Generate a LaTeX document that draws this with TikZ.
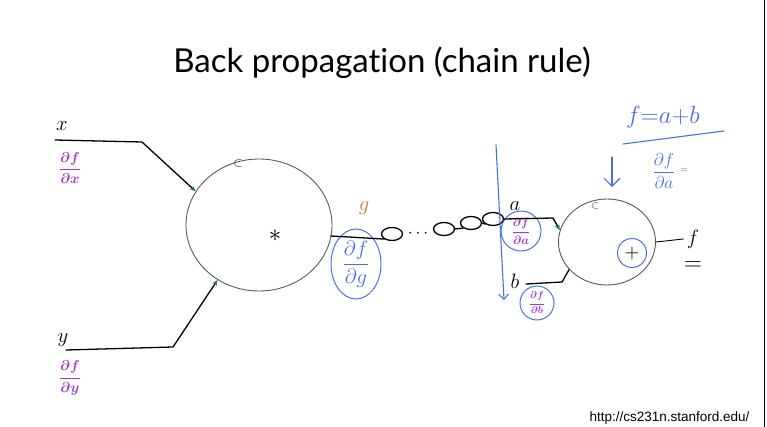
\documentclass[tikz,border=0pt]{standalone}
\usepackage{fontspec}
\newfontfamily\titlefont[Ligatures=NoCommon]{Lato}
\newfontfamily\urlfont{Liberation Sans}
\usetikzlibrary{shapes.geometric, arrows.meta, positioning}
\definecolor{penblue}{HTML}{4C6FE6}
\definecolor{gradpurple}{HTML}{A23BC8}
\definecolor{tipgreen}{HTML}{2F7A5C}
\definecolor{gbrown}{HTML}{B27A3E}

\begin{document}
\begin{tikzpicture}[x=1pt, y=-1pt, line cap=round, line join=round]

		% Setup the styles for the hand drawn slide
		\tikzset{gate/.style={ellipse, draw=black!65, line width=0.9pt, inner sep=0pt},
				pen/.style={line width=1.3pt, draw=black},
				loopy/.style={ellipse, draw, line width=1.3pt, minimum width=21pt, minimum height=13pt, inner sep=0pt},
				blueloop/.style={ellipse, draw=penblue, line width=1pt, inner sep=1pt},
				grad/.style={text=gradpurple, font=\fontsize{14.4}{16}\selectfont\boldmath},
				hand/.style={font=\fontsize{20.74}{22}\selectfont},
				tip/.style={-{Stealth[length=6pt, width=5pt, color=tipgreen]}}}

		\useasboundingbox (0,0) rectangle (767,427);
		\draw[line width=1.5pt] (764.5,0) -- (764.5,427);

		% Title and source
		\node[font=\titlefont\fontsize{33}{38}\selectfont] (title) at (382,63) {Back propagation (chain rule)};
		\node[font=\urlfont\fontsize{13.5}{16}\selectfont, anchor=east] (url) at (753,418) {http://cs231n.stanford.edu/};

		% Draw the gates
		\node[gate, minimum width=146pt, minimum height=132pt] (mul) at (259,225) {};
		\node[font=\fontsize{30}{30}\selectfont] (times) at (275,236) {$\ast$};
		\node[font=\fontsize{12}{12}\selectfont] (mulmark) at (238,164) {$\subset$};
		\node[gate, minimum width=97pt, minimum height=86pt] (add) at (607,242) {};
		\node[font=\fontsize{10}{10}\selectfont] (addmark) at (595,206) {$\subset$};
		\node[blueloop, circle, minimum size=29pt, font=\fontsize{20}{20}\selectfont] (plus) at (632,253) {$+$};

		% Inputs
		\node[hand] (xlab) at (62,126) {$x$};
		\node[grad] (dfdx) at (70,168) {$\displaystyle\frac{\partial f}{\partial x}$};
		\coordinate (xstart) at (55,140);
		\coordinate (xbend) at (142,142);
		\node[hand] (ylab) at (63,340) {$y$};
		\node[grad] (dfdy) at (70,378) {$\displaystyle\frac{\partial f}{\partial y}$};
		\coordinate (ystart) at (66,350);
		\coordinate (ybend) at (173,347);
		\draw[pen, tip] (xstart) -- (xbend) -- (mul.152);
		\draw[pen, tip] (ystart) -- (ybend) -- (mul.233);

		% Chain of gates in between
		\node[hand, text=gbrown] (glab) at (364,208) {$g$};
		\node[blueloop, minimum width=50pt, minimum height=70pt, text=penblue, font=\fontsize{20.74}{22}\selectfont] (dfdg) at (356,264) {$\displaystyle\frac{\partial f}{\partial g}$};
		\node[loopy] (loopA) at (392,234) {};
		\node[font=\fontsize{17.28}{17}\selectfont] (dots) at (418,234) {$\cdots$};
		\node[loopy] (loopB) at (444,229) {};
		\node[loopy] (loopC) at (471,223) {};
		\node[loopy] (loopD) at (493,219) {};
		\coordinate (gout) at (331,236);
		\draw[pen] (gout) -- (loopA.south west);
		\draw[pen] (loopB.east) -- (loopC.south west);
		\draw[pen] (loopC.east) -- (loopD.south west);

		% Inputs of the add gate
		\node[hand] (alab) at (515,206) {$a$};
		\node[hand] (blab) at (515,281) {$b$};
		\node[blueloop, circle, minimum size=40pt, text=gradpurple, font=\fontsize{12}{13}\selectfont\boldmath] (dfda) at (521,231) {$\displaystyle\frac{\partial f}{\partial a}$};
		\node[blueloop, circle, minimum size=34pt, text=gradpurple, font=\fontsize{10}{11}\selectfont\boldmath] (dfdb) at (537,303) {$\displaystyle\frac{\partial f}{\partial b}$};
		\coordinate (abend) at (553,218);
		\coordinate (bstart) at (526,284);
		\coordinate (bbend) at (562,282);
		\draw[pen, tip] (loopD.east) -- (abend) -- (add.166);
		\draw[pen] (bstart) -- (bbend) -- (add.216);

		% Output
		\node[hand] (flab) at (693,239) {$f$};
		\node[font=\fontsize{26}{26}\selectfont] (fmark) at (693,266) {$=$};
		\draw[pen, line width=0.9pt] (add.east) -- (flab.west);

		% Backward pass notes
		\coordinate (cuttop) at (496,145);
		\coordinate (cutbot) at (504,300);
		\draw[penblue, line width=1.1pt, -{Straight Barb[length=5pt]}] (cuttop) -- (cutbot);
		\node[text=penblue, font=\fontsize{24.88}{26}\selectfont] (fsum) at (663,117) {$f{=}a{+}b$};
		\coordinate (barl) at (623,144);
		\coordinate (barr) at (724,131);
		\draw[penblue, line width=1.1pt] (barl) -- (barr);
		\coordinate (downtop) at (612,157);
		\coordinate (downbot) at (612,187);
		\draw[penblue, line width=1.1pt, -{Straight Barb[length=8pt, width=16pt]}] (downtop) -- (downbot);
		\node[text=penblue, font=\fontsize{17.28}{18}\selectfont] (dfdanote) at (664,171) {$\displaystyle\frac{\partial f}{\partial a}$};
		\node[text=penblue, font=\fontsize{10}{10}\selectfont, right=-2pt of dfdanote] (eqnote) {$=$};

\end{tikzpicture}
\end{document}
